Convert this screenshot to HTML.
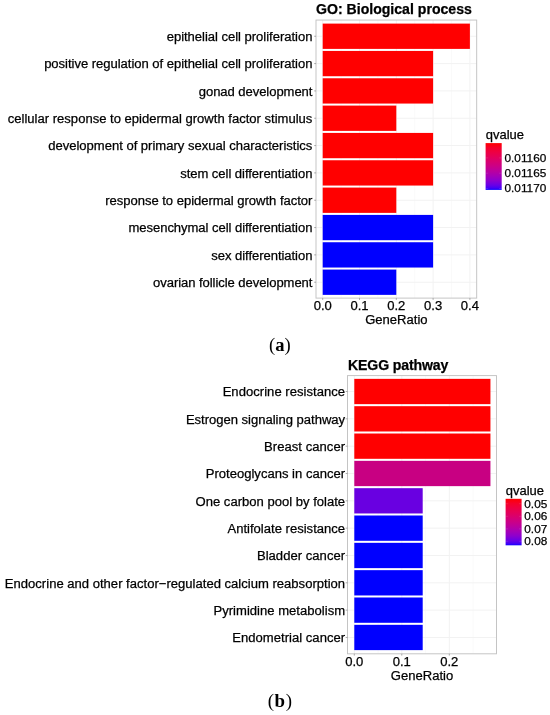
<!DOCTYPE html>
<html><head><meta charset="utf-8"><title>GO and KEGG enrichment</title>
<style>
html,body{margin:0;padding:0;background:#fff}
svg{display:block}
svg text{font-family:"Liberation Sans", Arial, Helvetica, sans-serif;fill:#000;stroke:#000;stroke-width:0.25px}
svg text.cap{font-family:"Liberation Serif", "Times New Roman", serif;stroke:none}
</style></head>
<body>
<svg width="550" height="715" viewBox="0 0 550 715">
<rect width="550" height="715" fill="#fff"/>
<rect x="316" y="20.05" width="160.7" height="278.05" fill="#fff"/>
<line x1="341.10" x2="341.10" y1="20.05" y2="298.1" stroke="#f6f6f6" stroke-width="0.6"/>
<line x1="377.90" x2="377.90" y1="20.05" y2="298.1" stroke="#f6f6f6" stroke-width="0.6"/>
<line x1="414.70" x2="414.70" y1="20.05" y2="298.1" stroke="#f6f6f6" stroke-width="0.6"/>
<line x1="451.50" x2="451.50" y1="20.05" y2="298.1" stroke="#f6f6f6" stroke-width="0.6"/>
<line x1="322.70" x2="322.70" y1="20.05" y2="298.1" stroke="#f2f2f2" stroke-width="1"/>
<line x1="359.50" x2="359.50" y1="20.05" y2="298.1" stroke="#f2f2f2" stroke-width="1"/>
<line x1="396.30" x2="396.30" y1="20.05" y2="298.1" stroke="#f2f2f2" stroke-width="1"/>
<line x1="433.10" x2="433.10" y1="20.05" y2="298.1" stroke="#f2f2f2" stroke-width="1"/>
<line x1="469.90" x2="469.90" y1="20.05" y2="298.1" stroke="#f2f2f2" stroke-width="1"/>
<line x1="316" x2="476.7" y1="36.25" y2="36.25" stroke="#f2f2f2" stroke-width="1"/>
<line x1="316" x2="476.7" y1="63.58" y2="63.58" stroke="#f2f2f2" stroke-width="1"/>
<line x1="316" x2="476.7" y1="90.91" y2="90.91" stroke="#f2f2f2" stroke-width="1"/>
<line x1="316" x2="476.7" y1="118.24" y2="118.24" stroke="#f2f2f2" stroke-width="1"/>
<line x1="316" x2="476.7" y1="145.57" y2="145.57" stroke="#f2f2f2" stroke-width="1"/>
<line x1="316" x2="476.7" y1="172.90" y2="172.90" stroke="#f2f2f2" stroke-width="1"/>
<line x1="316" x2="476.7" y1="200.23" y2="200.23" stroke="#f2f2f2" stroke-width="1"/>
<line x1="316" x2="476.7" y1="227.56" y2="227.56" stroke="#f2f2f2" stroke-width="1"/>
<line x1="316" x2="476.7" y1="254.89" y2="254.89" stroke="#f2f2f2" stroke-width="1"/>
<line x1="316" x2="476.7" y1="282.22" y2="282.22" stroke="#f2f2f2" stroke-width="1"/>
<rect x="322.70" y="23.60" width="147.20" height="25.30" fill="#ff0000"/>
<rect x="322.70" y="50.93" width="110.40" height="25.30" fill="#ff0000"/>
<rect x="322.70" y="78.26" width="110.40" height="25.30" fill="#ff0000"/>
<rect x="322.70" y="105.59" width="73.60" height="25.30" fill="#ff0000"/>
<rect x="322.70" y="132.92" width="110.40" height="25.30" fill="#ff0000"/>
<rect x="322.70" y="160.25" width="110.40" height="25.30" fill="#ff0000"/>
<rect x="322.70" y="187.58" width="73.60" height="25.30" fill="#ff0000"/>
<rect x="322.70" y="214.91" width="110.40" height="25.30" fill="#0000ff"/>
<rect x="322.70" y="242.24" width="110.40" height="25.30" fill="#0000ff"/>
<rect x="322.70" y="269.57" width="73.60" height="25.30" fill="#0000ff"/>
<rect x="316" y="20.05" width="160.7" height="278.05" fill="none" stroke="#c2c2c2" stroke-width="0.95"/>
<line x1="314.2" x2="316" y1="36.25" y2="36.25" stroke="#888" stroke-width="0.7"/>
<text x="312.4" y="41.00" text-anchor="end" font-size="13.05" textLength="145.73" lengthAdjust="spacing">epithelial cell proliferation</text>
<line x1="314.2" x2="316" y1="63.58" y2="63.58" stroke="#888" stroke-width="0.7"/>
<text x="312.4" y="68.33" text-anchor="end" font-size="13.05" textLength="268.26" lengthAdjust="spacing">positive regulation of epithelial cell proliferation</text>
<line x1="314.2" x2="316" y1="90.91" y2="90.91" stroke="#888" stroke-width="0.7"/>
<text x="312.4" y="95.66" text-anchor="end" font-size="13.05" textLength="113.64" lengthAdjust="spacing">gonad development</text>
<line x1="314.2" x2="316" y1="118.24" y2="118.24" stroke="#888" stroke-width="0.7"/>
<text x="312.4" y="122.99" text-anchor="end" font-size="13.05" textLength="304.64" lengthAdjust="spacing">cellular response to epidermal growth factor stimulus</text>
<line x1="314.2" x2="316" y1="145.57" y2="145.57" stroke="#888" stroke-width="0.7"/>
<text x="312.4" y="150.32" text-anchor="end" font-size="13.05" textLength="264.23" lengthAdjust="spacing">development of primary sexual characteristics</text>
<line x1="314.2" x2="316" y1="172.90" y2="172.90" stroke="#888" stroke-width="0.7"/>
<text x="312.4" y="177.65" text-anchor="end" font-size="13.05" textLength="132.23" lengthAdjust="spacing">stem cell differentiation</text>
<line x1="314.2" x2="316" y1="200.23" y2="200.23" stroke="#888" stroke-width="0.7"/>
<text x="312.4" y="204.98" text-anchor="end" font-size="13.05" textLength="207.19" lengthAdjust="spacing">response to epidermal growth factor</text>
<line x1="314.2" x2="316" y1="227.56" y2="227.56" stroke="#888" stroke-width="0.7"/>
<text x="312.4" y="232.31" text-anchor="end" font-size="13.05" textLength="183.95" lengthAdjust="spacing">mesenchymal cell differentiation</text>
<line x1="314.2" x2="316" y1="254.89" y2="254.89" stroke="#888" stroke-width="0.7"/>
<text x="312.4" y="259.64" text-anchor="end" font-size="13.05" textLength="101.05" lengthAdjust="spacing">sex differentiation</text>
<line x1="314.2" x2="316" y1="282.22" y2="282.22" stroke="#888" stroke-width="0.7"/>
<text x="312.4" y="286.97" text-anchor="end" font-size="13.05" textLength="159.34" lengthAdjust="spacing">ovarian follicle development</text>
<line x1="322.70" x2="322.70" y1="298.1" y2="299.90000000000003" stroke="#888" stroke-width="0.7"/>
<text x="322.70" y="310.25" text-anchor="middle" font-size="13.05">0.0</text>
<line x1="359.50" x2="359.50" y1="298.1" y2="299.90000000000003" stroke="#888" stroke-width="0.7"/>
<text x="359.50" y="310.25" text-anchor="middle" font-size="13.05">0.1</text>
<line x1="396.30" x2="396.30" y1="298.1" y2="299.90000000000003" stroke="#888" stroke-width="0.7"/>
<text x="396.30" y="310.25" text-anchor="middle" font-size="13.05">0.2</text>
<line x1="433.10" x2="433.10" y1="298.1" y2="299.90000000000003" stroke="#888" stroke-width="0.7"/>
<text x="433.10" y="310.25" text-anchor="middle" font-size="13.05">0.3</text>
<line x1="469.90" x2="469.90" y1="298.1" y2="299.90000000000003" stroke="#888" stroke-width="0.7"/>
<text x="469.90" y="310.25" text-anchor="middle" font-size="13.05">0.4</text>
<text x="396.35" y="323.7" text-anchor="middle" font-size="13.05">GeneRatio</text>
<text x="316" y="14.1" font-size="14.1" font-weight="bold">GO: Biological process</text>
<defs><linearGradient id="ga" x1="0" y1="0" x2="0" y2="1"><stop offset="0.0" stop-color="#ff0000"/><stop offset="0.1" stop-color="#f6002a"/><stop offset="0.2" stop-color="#ed0044"/><stop offset="0.3" stop-color="#e3005b"/><stop offset="0.4" stop-color="#d70072"/><stop offset="0.5" stop-color="#ca0088"/><stop offset="0.6" stop-color="#ba009f"/><stop offset="0.7" stop-color="#a600b7"/><stop offset="0.8" stop-color="#8d00ce"/><stop offset="0.9" stop-color="#6800e7"/><stop offset="0.95" stop-color="#4b00f3"/><stop offset="0.98" stop-color="#2f00fa"/><stop offset="1.0" stop-color="#0000ff"/></linearGradient></defs>
<rect x="485.6" y="143.1" width="16.099999999999966" height="46.80000000000001" fill="url(#ga)"/>
<text x="485.8" y="139.4" font-size="12.95">qvalue</text>
<line x1="485.6" x2="488.20000000000005" y1="157.9" y2="157.9" stroke="#fff" stroke-opacity="0.22" stroke-width="0.5"/>
<line x1="499.09999999999997" x2="501.7" y1="157.9" y2="157.9" stroke="#fff" stroke-opacity="0.22" stroke-width="0.5"/>
<text x="504.5" y="161.80" font-size="11.8">0.01160</text>
<line x1="485.6" x2="488.20000000000005" y1="173.2" y2="173.2" stroke="#fff" stroke-opacity="0.22" stroke-width="0.5"/>
<line x1="499.09999999999997" x2="501.7" y1="173.2" y2="173.2" stroke="#fff" stroke-opacity="0.22" stroke-width="0.5"/>
<text x="504.5" y="177.10" font-size="11.8">0.01165</text>
<line x1="485.6" x2="488.20000000000005" y1="188.5" y2="188.5" stroke="#fff" stroke-opacity="0.22" stroke-width="0.5"/>
<line x1="499.09999999999997" x2="501.7" y1="188.5" y2="188.5" stroke="#fff" stroke-opacity="0.22" stroke-width="0.5"/>
<text x="504.5" y="192.40" font-size="11.8">0.01170</text>
<rect x="347.5" y="375.6" width="149.0" height="278.19999999999993" fill="#fff"/>
<line x1="378.05" x2="378.05" y1="375.6" y2="653.8" stroke="#f6f6f6" stroke-width="0.6"/>
<line x1="425.55" x2="425.55" y1="375.6" y2="653.8" stroke="#f6f6f6" stroke-width="0.6"/>
<line x1="473.05" x2="473.05" y1="375.6" y2="653.8" stroke="#f6f6f6" stroke-width="0.6"/>
<line x1="354.30" x2="354.30" y1="375.6" y2="653.8" stroke="#f2f2f2" stroke-width="1"/>
<line x1="401.80" x2="401.80" y1="375.6" y2="653.8" stroke="#f2f2f2" stroke-width="1"/>
<line x1="449.30" x2="449.30" y1="375.6" y2="653.8" stroke="#f2f2f2" stroke-width="1"/>
<line x1="347.5" x2="496.5" y1="391.50" y2="391.50" stroke="#f2f2f2" stroke-width="1"/>
<line x1="347.5" x2="496.5" y1="418.83" y2="418.83" stroke="#f2f2f2" stroke-width="1"/>
<line x1="347.5" x2="496.5" y1="446.16" y2="446.16" stroke="#f2f2f2" stroke-width="1"/>
<line x1="347.5" x2="496.5" y1="473.49" y2="473.49" stroke="#f2f2f2" stroke-width="1"/>
<line x1="347.5" x2="496.5" y1="500.82" y2="500.82" stroke="#f2f2f2" stroke-width="1"/>
<line x1="347.5" x2="496.5" y1="528.15" y2="528.15" stroke="#f2f2f2" stroke-width="1"/>
<line x1="347.5" x2="496.5" y1="555.48" y2="555.48" stroke="#f2f2f2" stroke-width="1"/>
<line x1="347.5" x2="496.5" y1="582.81" y2="582.81" stroke="#f2f2f2" stroke-width="1"/>
<line x1="347.5" x2="496.5" y1="610.14" y2="610.14" stroke="#f2f2f2" stroke-width="1"/>
<line x1="347.5" x2="496.5" y1="637.47" y2="637.47" stroke="#f2f2f2" stroke-width="1"/>
<rect x="354.30" y="378.85" width="136.14" height="25.30" fill="#ff0000"/>
<rect x="354.30" y="406.18" width="136.14" height="25.30" fill="#ff0000"/>
<rect x="354.30" y="433.51" width="136.14" height="25.30" fill="#ff0000"/>
<rect x="354.30" y="460.84" width="136.14" height="25.30" fill="#c80082"/>
<rect x="354.30" y="488.17" width="68.40" height="25.30" fill="#6900e1"/>
<rect x="354.30" y="515.50" width="68.40" height="25.30" fill="#0000ff"/>
<rect x="354.30" y="542.83" width="68.40" height="25.30" fill="#0000ff"/>
<rect x="354.30" y="570.16" width="68.40" height="25.30" fill="#0000ff"/>
<rect x="354.30" y="597.49" width="68.40" height="25.30" fill="#0000ff"/>
<rect x="354.30" y="624.82" width="68.40" height="25.30" fill="#0000ff"/>
<rect x="347.5" y="375.6" width="149.0" height="278.19999999999993" fill="none" stroke="#c2c2c2" stroke-width="0.95"/>
<line x1="345.7" x2="347.5" y1="391.50" y2="391.50" stroke="#888" stroke-width="0.7"/>
<text x="345.1" y="396.25" text-anchor="end" font-size="13.05" textLength="122.46" lengthAdjust="spacing">Endocrine resistance</text>
<line x1="345.7" x2="347.5" y1="418.83" y2="418.83" stroke="#888" stroke-width="0.7"/>
<text x="345.1" y="423.58" text-anchor="end" font-size="13.05" textLength="159.20" lengthAdjust="spacing">Estrogen signaling pathway</text>
<line x1="345.7" x2="347.5" y1="446.16" y2="446.16" stroke="#888" stroke-width="0.7"/>
<text x="345.1" y="450.91" text-anchor="end" font-size="13.05" textLength="81.12" lengthAdjust="spacing">Breast cancer</text>
<line x1="345.7" x2="347.5" y1="473.49" y2="473.49" stroke="#888" stroke-width="0.7"/>
<text x="345.1" y="478.24" text-anchor="end" font-size="13.05" textLength="139.37" lengthAdjust="spacing">Proteoglycans in cancer</text>
<line x1="345.7" x2="347.5" y1="500.82" y2="500.82" stroke="#888" stroke-width="0.7"/>
<text x="345.1" y="505.57" text-anchor="end" font-size="13.05" textLength="149.55" lengthAdjust="spacing">One carbon pool by folate</text>
<line x1="345.7" x2="347.5" y1="528.15" y2="528.15" stroke="#888" stroke-width="0.7"/>
<text x="345.1" y="532.90" text-anchor="end" font-size="13.05" textLength="117.62" lengthAdjust="spacing">Antifolate resistance</text>
<line x1="345.7" x2="347.5" y1="555.48" y2="555.48" stroke="#888" stroke-width="0.7"/>
<text x="345.1" y="560.23" text-anchor="end" font-size="13.05" textLength="88.17" lengthAdjust="spacing">Bladder cancer</text>
<line x1="345.7" x2="347.5" y1="582.81" y2="582.81" stroke="#888" stroke-width="0.7"/>
<text x="345.1" y="587.56" text-anchor="end" font-size="13.05" textLength="340.27" lengthAdjust="spacing">Endocrine and other factor−regulated calcium reabsorption</text>
<line x1="345.7" x2="347.5" y1="610.14" y2="610.14" stroke="#888" stroke-width="0.7"/>
<text x="345.1" y="614.89" text-anchor="end" font-size="13.05" textLength="131.66" lengthAdjust="spacing">Pyrimidine metabolism</text>
<line x1="345.7" x2="347.5" y1="637.47" y2="637.47" stroke="#888" stroke-width="0.7"/>
<text x="345.1" y="642.22" text-anchor="end" font-size="13.05" textLength="112.83" lengthAdjust="spacing">Endometrial cancer</text>
<line x1="354.30" x2="354.30" y1="653.8" y2="655.5999999999999" stroke="#888" stroke-width="0.7"/>
<text x="354.30" y="666.2" text-anchor="middle" font-size="13.05">0.0</text>
<line x1="401.80" x2="401.80" y1="653.8" y2="655.5999999999999" stroke="#888" stroke-width="0.7"/>
<text x="401.80" y="666.2" text-anchor="middle" font-size="13.05">0.1</text>
<line x1="449.30" x2="449.30" y1="653.8" y2="655.5999999999999" stroke="#888" stroke-width="0.7"/>
<text x="449.30" y="666.2" text-anchor="middle" font-size="13.05">0.2</text>
<text x="422.00" y="679.6" text-anchor="middle" font-size="13.05">GeneRatio</text>
<text x="348" y="369.9" font-size="14.1" font-weight="bold" textLength="100.4" lengthAdjust="spacing">KEGG pathway</text>
<defs><linearGradient id="gb" x1="0" y1="0" x2="0" y2="1"><stop offset="0.0" stop-color="#ff0000"/><stop offset="0.1" stop-color="#f6002a"/><stop offset="0.2" stop-color="#ed0044"/><stop offset="0.3" stop-color="#e3005b"/><stop offset="0.4" stop-color="#d70072"/><stop offset="0.5" stop-color="#ca0088"/><stop offset="0.6" stop-color="#ba009f"/><stop offset="0.7" stop-color="#a600b7"/><stop offset="0.8" stop-color="#8d00ce"/><stop offset="0.9" stop-color="#6800e7"/><stop offset="0.95" stop-color="#4b00f3"/><stop offset="0.98" stop-color="#2f00fa"/><stop offset="1.0" stop-color="#0000ff"/></linearGradient></defs>
<rect x="505.6" y="498.8" width="16.0" height="46.49999999999994" fill="url(#gb)"/>
<text x="505.8" y="494.8" font-size="12.95">qvalue</text>
<line x1="505.6" x2="508.20000000000005" y1="503.7" y2="503.7" stroke="#fff" stroke-opacity="0.22" stroke-width="0.5"/>
<line x1="519.0" x2="521.6" y1="503.7" y2="503.7" stroke="#fff" stroke-opacity="0.22" stroke-width="0.5"/>
<text x="524.3" y="507.60" font-size="11.8">0.05</text>
<line x1="505.6" x2="508.20000000000005" y1="516.3" y2="516.3" stroke="#fff" stroke-opacity="0.22" stroke-width="0.5"/>
<line x1="519.0" x2="521.6" y1="516.3" y2="516.3" stroke="#fff" stroke-opacity="0.22" stroke-width="0.5"/>
<text x="524.3" y="520.20" font-size="11.8">0.06</text>
<line x1="505.6" x2="508.20000000000005" y1="528.9" y2="528.9" stroke="#fff" stroke-opacity="0.22" stroke-width="0.5"/>
<line x1="519.0" x2="521.6" y1="528.9" y2="528.9" stroke="#fff" stroke-opacity="0.22" stroke-width="0.5"/>
<text x="524.3" y="532.80" font-size="11.8">0.07</text>
<line x1="505.6" x2="508.20000000000005" y1="541.3" y2="541.3" stroke="#fff" stroke-opacity="0.22" stroke-width="0.5"/>
<line x1="519.0" x2="521.6" y1="541.3" y2="541.3" stroke="#fff" stroke-opacity="0.22" stroke-width="0.5"/>
<text x="524.3" y="545.20" font-size="11.8">0.08</text>
<text x="269" y="350.8" class="cap" font-size="18.6">(<tspan font-weight="bold">a</tspan>)</text>
<text x="267.7" y="706.5" class="cap" font-size="18.9" letter-spacing="0.6">(<tspan font-weight="bold">b</tspan>)</text>
</svg>
</body></html>
